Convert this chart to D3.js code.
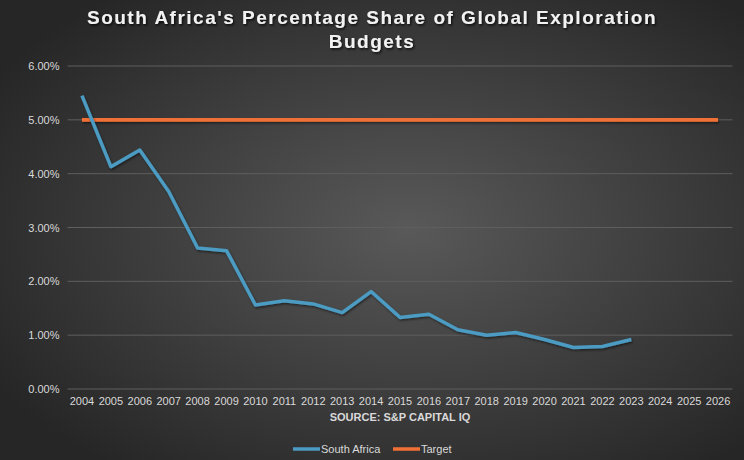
<!DOCTYPE html>
<html><head><meta charset="utf-8">
<script src="https://cdn.jsdelivr.net/npm/d3@7"></script>
<style>html,body{margin:0;padding:0;background:#333;}svg{display:block;}</style>
</head><body>
<svg id="c" width="744" height="460"></svg>
<script>
const years = ["2004","2005","2006","2007","2008","2009","2010","2011","2012","2013","2014","2015","2016","2017","2018","2019","2020","2021","2022","2023","2024","2025","2026"];
const southAfrica = [5.45,4.13,4.44,3.67,2.62,2.57,1.56,1.64,1.58,1.42,1.81,1.33,1.39,1.10,1.00,1.05,0.92,0.77,0.79,0.92];
const target = years.map(() => 5.0);
const yTicks = [0,1,2,3,4,5,6];

const W = 744, H = 460;
const svg = d3.select("#c");
const defs = svg.append("defs");
const rg = defs.append("radialGradient").attr("id","bg").attr("cx","55%").attr("cy","50%").attr("r","65%");
rg.append("stop").attr("offset","0%").attr("stop-color","#595959");
rg.append("stop").attr("offset","100%").attr("stop-color","#262626");
const f = defs.append("filter").attr("id","sh").attr("x","-10%").attr("y","-30%").attr("width","120%").attr("height","160%");
f.append("feDropShadow").attr("dx",1.2).attr("dy",1.5).attr("stdDeviation",0.8).attr("flood-color","#000").attr("flood-opacity",0.8);
const f2 = defs.append("filter").attr("id","lsh").attr("filterUnits","userSpaceOnUse")
  .attr("x",0).attr("y",0).attr("width",W).attr("height",H);
f2.append("feDropShadow").attr("dx",1).attr("dy",1.5).attr("stdDeviation",1).attr("flood-color","#000").attr("flood-opacity",0.5);

svg.append("rect").attr("width",W).attr("height",H).attr("fill","url(#bg)");

const x = d3.scaleBand().domain(years).range([67.5,732.5]);
const y = d3.scaleLinear().domain([0,6]).range([389,66]);

// gridlines
svg.append("g").selectAll("line").data(yTicks).join("line")
  .attr("x1",67.5).attr("x2",732.5)
  .attr("y1",d=>y(d)).attr("y2",d=>y(d))
  .attr("stroke","#5e5e5e").attr("stroke-width",1);

// y axis
const yAxis = d3.axisLeft(y).tickValues(yTicks).tickFormat(d=>d3.format(".2f")(d)+"%").tickSize(0).tickPadding(8);
const gy = svg.append("g").attr("transform","translate(67.5,0)").call(yAxis);
gy.select(".domain").remove();
gy.selectAll("text").attr("fill","#d9d9d9").style("font-family","'Liberation Sans',Arial,sans-serif").style("font-size","11px");

// x axis
const xAxis = d3.axisBottom(x).tickSize(0).tickPadding(8);
const gx = svg.append("g").attr("transform","translate(0,389)").call(xAxis);
gx.select(".domain").remove();
gx.selectAll("text").attr("fill","#d9d9d9").style("font-family","'Liberation Sans',Arial,sans-serif").style("font-size","11px");

const cx = d => x(d) + x.bandwidth()/2;
const line = d3.line().x((d,i)=>cx(years[i])).y(d=>y(d));

svg.append("path").datum(target).attr("d",line)
  .attr("fill","none").attr("stroke","#f07035").attr("stroke-width",3.8).attr("filter","url(#lsh)");
svg.append("path").datum(southAfrica).attr("d",line)
  .attr("fill","none").attr("stroke","#4b9bc2").attr("stroke-width",3.5)
  .attr("stroke-linejoin","round").attr("filter","url(#lsh)");

// title
const title = svg.append("text").attr("text-anchor","middle").attr("fill","#f2f2f2")
  .style("font-family","'Liberation Sans',Arial,sans-serif").style("font-weight","bold").style("font-size","19px")
  .style("letter-spacing","1.5px").attr("filter","url(#sh)");
title.append("tspan").attr("x",372).attr("y",24).text("South Africa's Percentage Share of Global Exploration");
title.append("tspan").attr("x",372).attr("y",48).text("Budgets");

// source
svg.append("text").attr("x",400).attr("y",421).attr("text-anchor","middle").attr("fill","#d9d9d9")
  .style("font-family","'Liberation Sans',Arial,sans-serif").style("font-weight","bold").style("font-size","11px")
  .text("SOURCE: S&P CAPITAL IQ");

// legend
const legend = [{name:"South Africa",color:"#4b9bc2",x:293},{name:"Target",color:"#f07035",x:393}];
const lg = svg.append("g").selectAll("g").data(legend).join("g").attr("transform",d=>`translate(${d.x},449)`);
lg.append("line").attr("x1",0).attr("x2",27).attr("stroke",d=>d.color).attr("stroke-width",3.5);
lg.append("text").attr("x",28).attr("y",4).attr("fill","#d9d9d9")
  .style("font-family","'Liberation Sans',Arial,sans-serif").style("font-size","11px").text(d=>d.name);
</script>
</body></html>
